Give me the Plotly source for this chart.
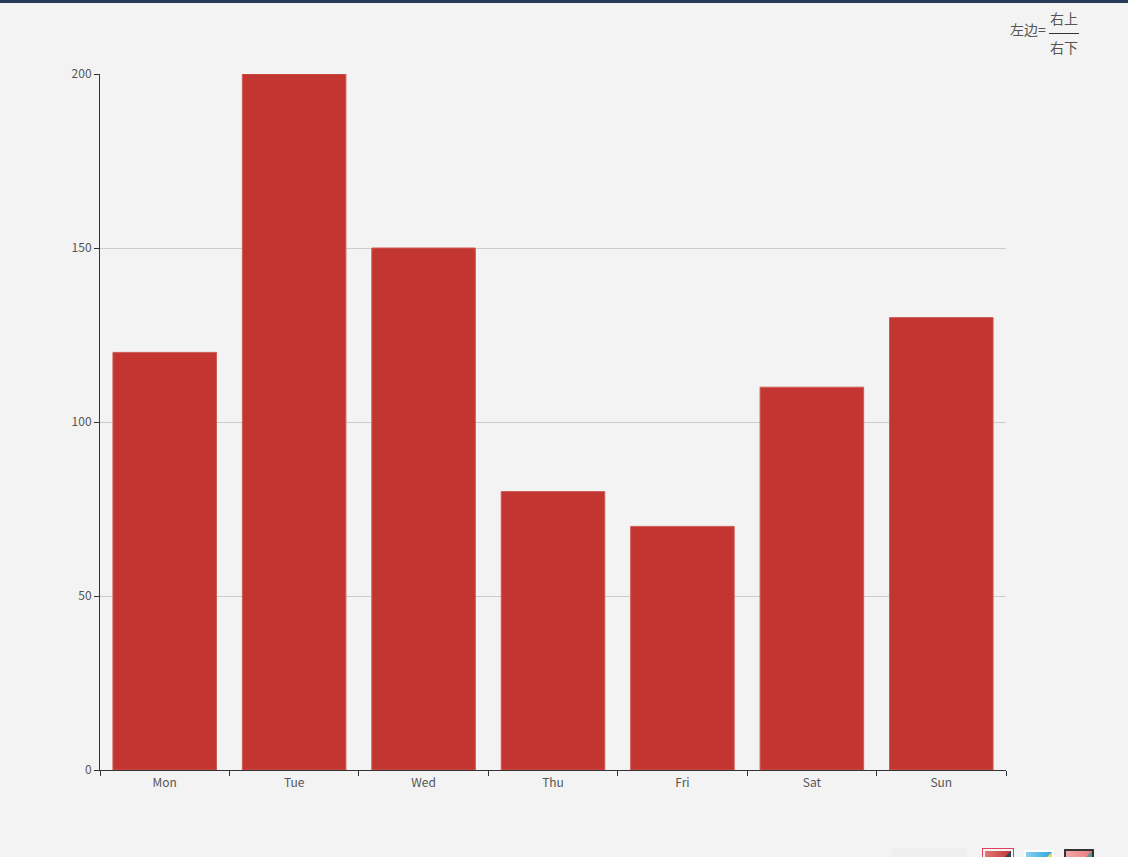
import plotly.graph_objects as go

days = ["Mon", "Tue", "Wed", "Thu", "Fri", "Sat", "Sun"]
sales = [120, 200, 150, 80, 70, 110, 130]
y_ticks = [0, 50, 100, 150, 200]

width = 1128
height = 857
plot_left = 100
plot_right = 1006
plot_top = 74
plot_bottom = 770
font_family = "Noto Sans CJK SC, Noto Sans, sans-serif"


# paper coordinates are relative to the plot area, not the page
def px_x(x):
    return (x - plot_left) / (plot_right - plot_left)


def px_y(y):
    return (plot_bottom - y) / (plot_bottom - plot_top)


def thumb(x0, y0, w, h, stops, corner, border, border_w, inset):
    # small theme swatch, drawn as an inline svg with a gradient
    svg = ("<svg xmlns='http://www.w3.org/2000/svg' width='{w}' height='{h}'>"
           "<defs><linearGradient id='g' x1='0' y1='0' x2='1' y2='0'>"
           "<stop offset='0' stop-color='{a}'/><stop offset='1' stop-color='{b}'/>"
           "</linearGradient></defs>"
           "<rect width='{w}' height='{h}' fill='{border}'/>"
           "<rect x='{bw}' y='{bw}' width='{gw}' height='{h}' fill='#f3f3f3'/>"
           "<rect x='{i}' y='{i}' width='{iw}' height='{h}' fill='url(#g)'/>"
           "<polygon points='{r},{i} {r},{h} {l},{h}' fill='{corner}'/>"
           "</svg>").format(w=w, h=h, a=stops[0], b=stops[1], border=border,
                            bw=border_w, gw=w - 2 * border_w, i=inset,
                            iw=w - 2 * inset, corner=corner,
                            r=w - inset, l=w - inset - (h - inset))
    svg = svg.replace("#", "%23").replace("<", "%3C").replace(">", "%3E")
    return dict(source="data:image/svg+xml," + svg, xref="paper", yref="paper",
                x=px_x(x0), y=px_y(y0),
                sizex=w / (plot_right - plot_left),
                sizey=h / (plot_bottom - plot_top),
                xanchor="left", yanchor="top", sizing="stretch", layer="above")


fig = go.Figure()
fig.add_trace(go.Bar(x=days, y=sales, width=0.8,
                     marker_color="#c23531",
                     marker_line_color="#cf5a56",
                     marker_line_width=1))

fig.update_layout(
    width=width, height=height,
    autosize=False,
    paper_bgcolor="#f3f3f3",
    plot_bgcolor="#f3f3f3",
    showlegend=False,
    margin=dict(l=plot_left, r=width - plot_right, t=plot_top,
                b=height - plot_bottom),
    font=dict(family=font_family, size=12, color="#555"),
    xaxis=dict(type="category", categoryorder="array", categoryarray=days,
               range=[-0.5, 6.5], showgrid=False, zeroline=False,
               showline=True, linecolor="#333", linewidth=1,
               ticks="outside", tickson="boundaries", ticklen=5,
               tickcolor="#333", tickwidth=1, ticklabelstandoff=2,
               tickfont=dict(size=12, color="#555")),
    yaxis=dict(range=[0, 200], tickvals=y_ticks, showgrid=True,
               gridcolor="#ccc", gridwidth=1, zeroline=False,
               showline=True, linecolor="#333", linewidth=1,
               ticks="outside", ticklen=5, tickcolor="#333", tickwidth=1,
               tickfont=dict(size=12, color="#555")),
)

# top bar, formula and the toolbox at the bottom of the page
fig.add_shape(type="rect", xref="paper", yref="paper", x0=px_x(0), x1=px_x(width),
              y0=px_y(3), y1=px_y(0), fillcolor="#263a5a", line_width=0, layer="above")
fig.add_shape(type="line", xref="paper", yref="paper", x0=px_x(1049), x1=px_x(1079),
              y0=px_y(33.5), y1=px_y(33.5), line=dict(color="#333", width=1))
fig.add_shape(type="rect", xref="paper", yref="paper", x0=px_x(892), x1=px_x(967),
              y0=px_y(857), y1=px_y(848), fillcolor="#efefef", line_width=0)
for text, x, y, size in [("左边=", 1027.5, 29, 14), ("右上", 1063.5, 18, 14),
                         ("右下", 1063.5, 47, 14)]:
    fig.add_annotation(text=text, xref="paper", yref="paper", x=px_x(x), y=px_y(y),
                       showarrow=False, xanchor="center", yanchor="middle",
                       font=dict(family=font_family, size=size, color="#555"))

fig.update_layout(images=[
    thumb(982, 848, 32, 9, ("#dd7a77", "#c23531"), "#2f4554", "#e0405e", 1, 3),
    thumb(1024, 850, 30, 7, ("#87cef0", "#2ea7e0"), "#f5d45a", "#ffffff", 2, 2),
    thumb(1064, 849, 30, 8, ("#f2a6a6", "#e87c7c"), "#5f8f92", "#333333", 2, 2),
])

fig.write_html("out.html", config={"displayModeBar": False}, post_script=(
    "document.body.style.margin='0';"
    "document.documentElement.style.overflow='hidden';"))
